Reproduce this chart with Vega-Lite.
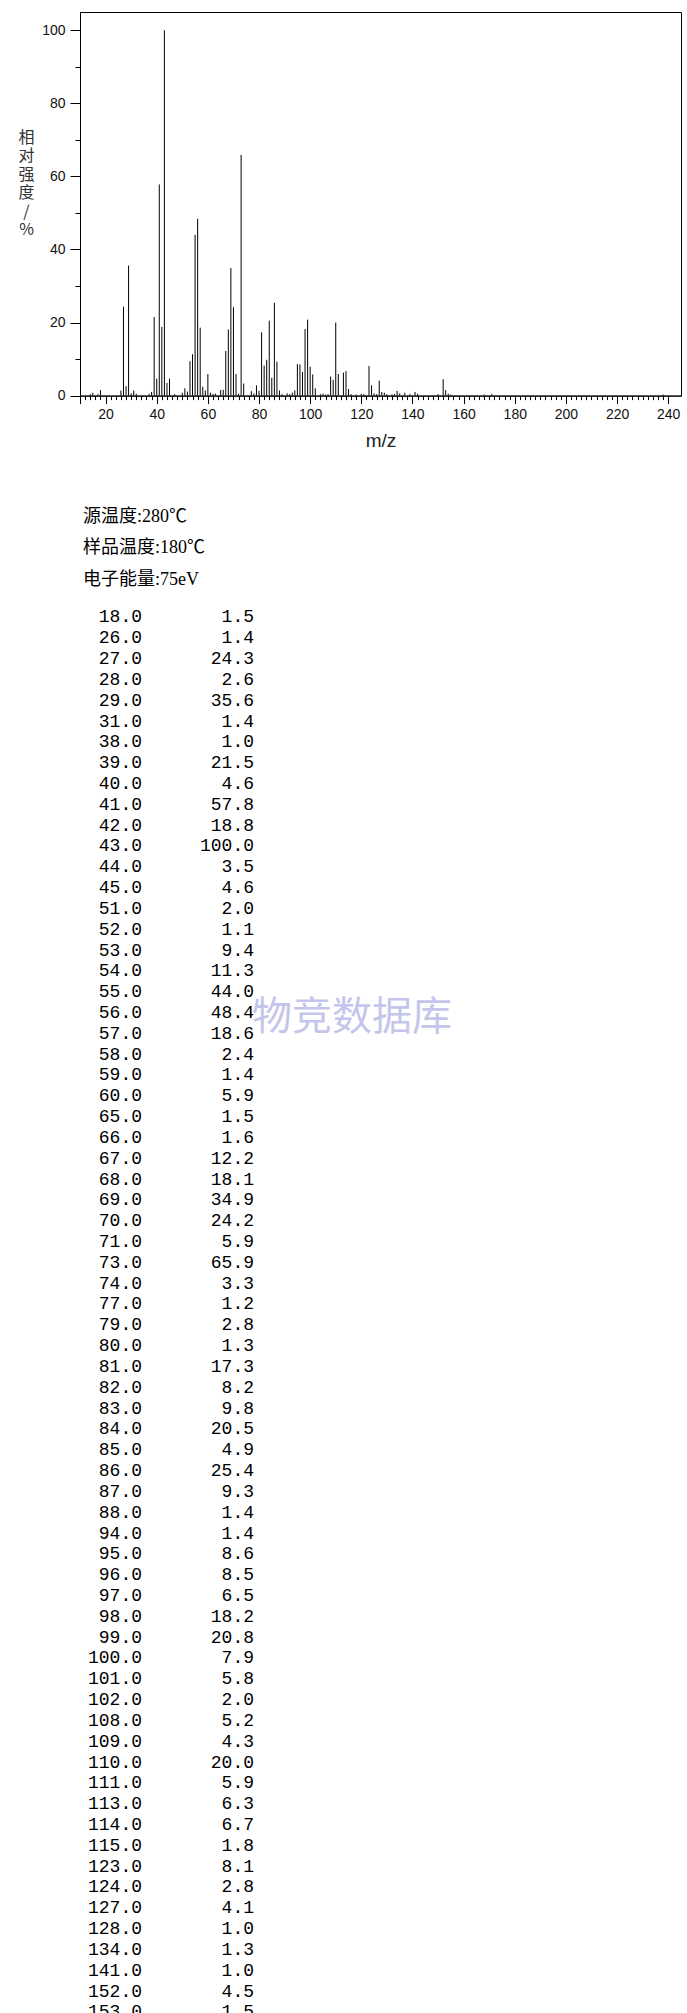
{
  "$schema": "https://vega.github.io/schema/vega-lite/v6.json",
  "background": "white",
  "padding": {"left": 17, "top": 11, "right": 0, "bottom": 0},
  "spacing": 55,
  "config": {
    "view": {"stroke": "#000", "strokeWidth": 1},
    "axis": {"grid": false, "domainColor": "#000", "tickColor": "#000", "labelColor": "#111", "titleColor": "#222"}
  },
  "datasets": {
    "peaks": [
      {"mz": 14, "intensity": 0.4}, {"mz": 15, "intensity": 0.8}, {"mz": 17, "intensity": 0.4},
      {"mz": 18, "intensity": 1.5}, {"mz": 26, "intensity": 1.4}, {"mz": 27, "intensity": 24.3},
      {"mz": 28, "intensity": 2.6}, {"mz": 29, "intensity": 35.6}, {"mz": 30, "intensity": 0.6},
      {"mz": 31, "intensity": 1.4}, {"mz": 32, "intensity": 0.5}, {"mz": 37, "intensity": 0.5},
      {"mz": 38, "intensity": 1.0}, {"mz": 39, "intensity": 21.5}, {"mz": 40, "intensity": 4.6},
      {"mz": 41, "intensity": 57.8}, {"mz": 42, "intensity": 18.8}, {"mz": 43, "intensity": 100.0},
      {"mz": 44, "intensity": 3.5}, {"mz": 45, "intensity": 4.6}, {"mz": 47, "intensity": 0.4},
      {"mz": 50, "intensity": 0.8}, {"mz": 51, "intensity": 2.0}, {"mz": 52, "intensity": 1.1},
      {"mz": 53, "intensity": 9.4}, {"mz": 54, "intensity": 11.3}, {"mz": 55, "intensity": 44.0},
      {"mz": 56, "intensity": 48.4}, {"mz": 57, "intensity": 18.6}, {"mz": 58, "intensity": 2.4},
      {"mz": 59, "intensity": 1.4}, {"mz": 60, "intensity": 5.9}, {"mz": 61, "intensity": 0.8},
      {"mz": 62, "intensity": 0.5}, {"mz": 63, "intensity": 0.5}, {"mz": 65, "intensity": 1.5},
      {"mz": 66, "intensity": 1.6}, {"mz": 67, "intensity": 12.2}, {"mz": 68, "intensity": 18.1},
      {"mz": 69, "intensity": 34.9}, {"mz": 70, "intensity": 24.2}, {"mz": 71, "intensity": 5.9},
      {"mz": 72, "intensity": 0.5}, {"mz": 73, "intensity": 65.9}, {"mz": 74, "intensity": 3.3},
      {"mz": 77, "intensity": 1.2}, {"mz": 78, "intensity": 0.6}, {"mz": 79, "intensity": 2.8},
      {"mz": 80, "intensity": 1.3}, {"mz": 81, "intensity": 17.3}, {"mz": 82, "intensity": 8.2},
      {"mz": 83, "intensity": 9.8}, {"mz": 84, "intensity": 20.5}, {"mz": 85, "intensity": 4.9},
      {"mz": 86, "intensity": 25.4}, {"mz": 87, "intensity": 9.3}, {"mz": 88, "intensity": 1.4},
      {"mz": 89, "intensity": 0.4}, {"mz": 91, "intensity": 0.6}, {"mz": 92, "intensity": 0.4},
      {"mz": 93, "intensity": 0.8}, {"mz": 94, "intensity": 1.4}, {"mz": 95, "intensity": 8.6},
      {"mz": 96, "intensity": 8.5}, {"mz": 97, "intensity": 6.5}, {"mz": 98, "intensity": 18.2},
      {"mz": 99, "intensity": 20.8}, {"mz": 100, "intensity": 7.9}, {"mz": 101, "intensity": 5.8},
      {"mz": 102, "intensity": 2.0}, {"mz": 104, "intensity": 0.4}, {"mz": 105, "intensity": 0.5},
      {"mz": 106, "intensity": 0.3}, {"mz": 107, "intensity": 0.4}, {"mz": 108, "intensity": 5.2},
      {"mz": 109, "intensity": 4.3}, {"mz": 110, "intensity": 20.0}, {"mz": 111, "intensity": 5.9},
      {"mz": 113, "intensity": 6.3}, {"mz": 114, "intensity": 6.7}, {"mz": 115, "intensity": 1.8},
      {"mz": 116, "intensity": 0.4}, {"mz": 118, "intensity": 0.3}, {"mz": 120, "intensity": 0.5},
      {"mz": 121, "intensity": 0.4}, {"mz": 123, "intensity": 8.1}, {"mz": 124, "intensity": 2.8},
      {"mz": 125, "intensity": 0.6}, {"mz": 126, "intensity": 0.4}, {"mz": 127, "intensity": 4.1},
      {"mz": 128, "intensity": 1.0}, {"mz": 129, "intensity": 0.8}, {"mz": 130, "intensity": 0.4},
      {"mz": 132, "intensity": 0.3}, {"mz": 133, "intensity": 0.4}, {"mz": 134, "intensity": 1.3},
      {"mz": 135, "intensity": 0.6}, {"mz": 137, "intensity": 0.8}, {"mz": 139, "intensity": 0.4},
      {"mz": 141, "intensity": 1.0}, {"mz": 142, "intensity": 0.5}, {"mz": 150, "intensity": 0.4},
      {"mz": 152, "intensity": 4.5}, {"mz": 153, "intensity": 1.5}, {"mz": 154, "intensity": 0.5},
      {"mz": 155, "intensity": 0.3}, {"mz": 168, "intensity": 0.3}, {"mz": 171, "intensity": 0.4},
      {"mz": 238, "intensity": 0.3}
    ]
  },
  "vconcat": [
    {
      "width": 601,
      "height": 383.6,
      "data": {"name": "peaks"},
      "mark": {"type": "rule", "color": "#000", "strokeWidth": 1},
      "encoding": {
        "x": {
          "field": "mz", "type": "quantitative",
          "scale": {"domain": [10, 245], "nice": false, "zero": false},
          "axis": {
            "values": [10,12,14,16,18,20,22,24,26,28,30,32,34,36,38,40,42,44,46,48,50,52,54,56,58,60,62,64,66,68,70,72,74,76,78,80,82,84,86,88,90,92,94,96,98,100,102,104,106,108,110,112,114,116,118,120,122,124,126,128,130,132,134,136,138,140,142,144,146,148,150,152,154,156,158,160,162,164,166,168,170,172,174,176,178,180,182,184,186,188,190,192,194,196,198,200,202,204,206,208,210,212,214,216,218,220,222,224,226,228,230,232,234,236,238,240],
            "tickSize": {"condition": {"test": "datum.value % 20 === 0 || datum.value === 10", "value": 8}, "value": 4},
            "labelExpr": "datum.value % 20 === 0 ? datum.label : ''",
            "labelOverlap": false, "labelFlush": false, "labelBound": false,
            "labelFont": "Liberation Sans", "labelFontSize": 14, "labelPadding": 4,
            "title": "m/z", "titleFont": "Liberation Sans", "titleFontSize": 19, "titleFontWeight": "normal", "titlePadding": 10
          }
        },
        "y": {
          "field": "intensity", "type": "quantitative",
          "scale": {"domain": [0, 105], "nice": false},
          "axis": {
            "values": [0,10,20,30,40,50,60,70,80,90,100],
            "tickSize": {"condition": {"test": "datum.value % 20 === 0", "value": 10}, "value": 5},
            "labelExpr": "datum.value % 20 === 0 ? datum.label : ''",
            "labelOverlap": false, "labelFlush": false, "labelBound": false,
            "labelFont": "Liberation Sans", "labelFontSize": 14, "labelPadding": 5,
            "title": ["相", "对", "强", "度", "/", "%"],
            "titleAngle": 0, "titleAlign": "center", "titleBaseline": "top",
            "titleX": -54, "titleY": 117, "titleLineHeight": 18.5,
            "titleFont": "Noto Sans CJK SC", "titleFontSize": 16, "titleFontWeight": "normal", "titleColor": "#333"
          }
        },
        "y2": {"datum": 0}
      }
    },
    {
      "width": 601,
      "height": 1415.8,
      "view": {"stroke": null},
      "title": {
        "text": ["源温度:280℃", "样品温度:180℃", "电子能量:75eV"],
        "anchor": "start", "frame": "group", "baseline": "bottom",
        "font": "Liberation Serif, Noto Sans CJK SC", "fontSize": 18, "fontWeight": "normal",
        "lineHeight": 31.7, "offset": 0, "dx": 3, "color": "#000"
      },
      "layer": [
        {
          "data": {"name": "peaks"},
          "transform": [
            {"filter": "datum.intensity >= 1"},
            {"fold": ["mz", "intensity"], "as": ["col", "val"]}
          ],
          "mark": {"type": "text", "align": "right", "baseline": "middle", "font": "Liberation Mono", "fontSize": 18, "color": "#000"},
          "encoding": {
            "y": {"field": "mz", "type": "ordinal", "sort": "ascending", "scale": {"paddingInner": 0, "paddingOuter": 0}, "axis": null},
            "x": {"field": "col", "type": "nominal", "scale": {"type": "point", "domain": ["mz", "intensity", "wm"], "range": [62, 286], "padding": 0}, "axis": null},
            "text": {"field": "val", "type": "quantitative", "format": ".1f"}
          }
        },
        {
          "data": {"values": [{"label": "物竞数据库"}]},
          "mark": {"type": "text", "align": "center", "baseline": "middle", "font": "Noto Sans CJK SC", "fontSize": 40, "color": "#7070d0", "opacity": 0.4, "dx": -14, "dy": 5},
          "encoding": {
            "x": {"datum": "wm", "type": "nominal"},
            "y": {"datum": 56, "type": "ordinal"},
            "text": {"field": "label", "type": "nominal"}
          }
        }
      ]
    }
  ]
}
